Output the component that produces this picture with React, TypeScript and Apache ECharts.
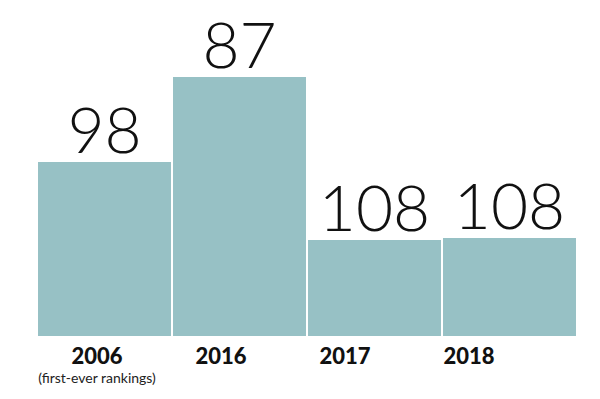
import React, { useEffect, useRef } from "react";
import * as echarts from "echarts";

const years = ["2006", "2016", "2017", "2018"];
const ranks = [98, 87, 108, 108];
// bar lengths as drawn (arbitrary units, taller = better ranking)
const barLengths = [174, 259, 96, 98];
const notes = ["(first-ever rankings)", "", "", ""];

export default function App() {
  const ref = useRef<HTMLDivElement>(null);
  useEffect(() => {
    if (!ref.current) return;
    const chart = echarts.init(ref.current, null, { renderer: "svg" });
    chart.setOption({
      animation: false,
      backgroundColor: "#ffffff",
      grid: [
        { left: 37, right: 23, top: 36, bottom: 63 },
        { left: 35, width: 496, top: 36, bottom: 63 },
      ],
      xAxis: [
        {
          type: "category",
          gridIndex: 0,
          data: years,
          axisLine: { show: false },
          axisTick: { show: false },
          axisLabel: { show: false },
        },
        {
          type: "category",
          gridIndex: 1,
          data: years,
          axisLine: { show: false },
          axisTick: { show: false },
          axisLabel: {
            margin: 6,
            interval: 0,
            formatter: (v: string, i: number) =>
              notes[i] ? `{y|${v}}\n{s|${notes[i]}}` : `{y|${v}}`,
            rich: {
              y: {
                fontFamily: "Lato",
                fontWeight: 900,
                fontSize: 22,
                color: "#111",
                lineHeight: 26,
              },
              s: {
                fontFamily: "Lato",
                fontSize: 14,
                color: "#222",
                lineHeight: 19,
              },
            },
          },
        },
      ],
      yAxis: [
        { type: "value", gridIndex: 0, min: 0, max: 300, show: false },
        { type: "value", gridIndex: 1, min: 0, max: 300, show: false },
      ],
      series: [
        {
          type: "bar",
          xAxisIndex: 0,
          yAxisIndex: 0,
          data: barLengths,
          barCategoryGap: "1.5%",
          itemStyle: { color: "#97c1c5" },
          label: {
            show: true,
            position: "top",
            distance: 2,
            formatter: (p: any) => String(ranks[p.dataIndex]),
            fontFamily: "Lato",
            fontWeight: 300,
            fontSize: 64,
            color: "#111",
          },
        },
      ],
    });
    return () => chart.dispose();
  }, []);
  return <div ref={ref} style={{ width: 600, height: 399, position: "absolute", left: 0, top: 0 }} />;
}
